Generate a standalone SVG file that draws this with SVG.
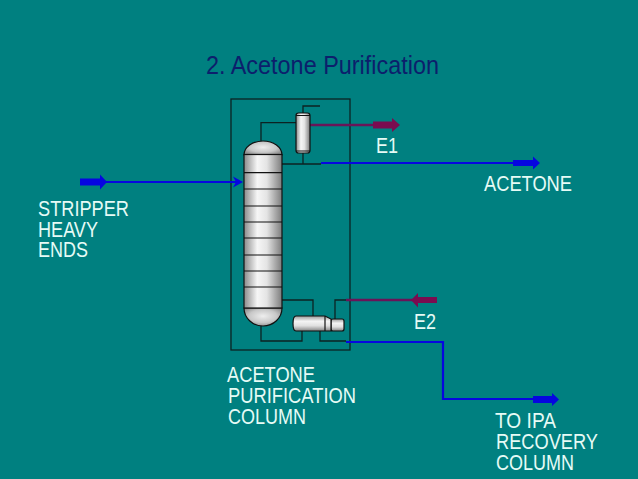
<svg xmlns="http://www.w3.org/2000/svg" width="638" height="479" viewBox="0 0 638 479">
<style>
.lab{font-family:"Liberation Sans",Arial,sans-serif;font-size:22.5px;fill:#e6fbf6}
.blk{fill:none;stroke:#0c2222;stroke-width:1.3}
.tray{stroke:#111;stroke-width:1.2;fill:none}
.blue{fill:none;stroke:#0606e0;stroke-width:2.2}
.pur{fill:none;stroke:#6a1458;stroke-width:2.4}
.outl{stroke:#111;stroke-width:1.2}
</style>
<defs>
<linearGradient id="v" x1="0" x2="1" y1="0" y2="0"><stop offset="0" stop-color="#8a8a8a"/><stop offset=".35" stop-color="#f6f6f6"/><stop offset=".6" stop-color="#e4e4e4"/><stop offset="1" stop-color="#7c7c7c"/></linearGradient>
<linearGradient id="h" x1="0" x2="0" y1="0" y2="1"><stop offset="0" stop-color="#9a9a9a"/><stop offset=".35" stop-color="#f4f4f4"/><stop offset=".65" stop-color="#e0e0e0"/><stop offset="1" stop-color="#858585"/></linearGradient>
<radialGradient id="d" cx=".5" cy=".45" r=".6"><stop offset="0" stop-color="#eee"/><stop offset=".6" stop-color="#c8c8c8"/><stop offset="1" stop-color="#8a8a8a"/></radialGradient>
</defs>
<rect id="background" width="638" height="479" fill="#008080"/>
<g id="title"><text x="206" y="74" font-family="'Liberation Sans',Arial,sans-serif" font-size="26" fill="#0c1f6c" textLength="233" lengthAdjust="spacingAndGlyphs">2. Acetone Purification</text></g>
<g id="connectors">
<rect class="blk" x="231" y="99" width="119" height="251"/>
<path class="blk" d="M261 141V122.700H296M303 113V106H320M303 153V164M282 164H321M282 300H313V316M335 319V300H346M261 326V341H302V331M320 331V341H346"/>
<path class="pur" d="M310 125H376"/>
<path class="pur" d="M346 300H415"/>
<path class="blue" d="M321 163H515"/>
<path class="blue" d="M104 182H238"/>
<path class="blue" d="M346 342H443V399H535"/>
<path d="M233 176.500L243 182L233 187.500L236 182Z" fill="#0606e0"/>
<path d="M80 178.500H100V174.500L107 182L100 189.500V185.500H80Z" fill="#0606e0"/>
<path d="M513 160H533V156.500L540 163L533 169.500V166H513Z" fill="#0606e0"/>
<path d="M533 396H552V393L559 399.500L552 406V403H533Z" fill="#0606e0"/>
<path d="M373 121.500H392V118L400 125L392 132V128.500H373Z" fill="#7a0c50"/>
<path d="M437 297V303H418V307.500L411 300L418 293V297Z" fill="#7a0c50"/>
</g>
<g id="column">
<path d="M244 155A19 14 0 0 1 282 155Z" fill="url(#d)" class="outl"/>
<path d="M244 308A19 18 0 0 0 282 308Z" fill="url(#d)" class="outl"/>
<rect x="244" y="154.500" width="38" height="153.500" fill="url(#v)" class="outl"/>
<path class="tray" d="M244 172.700H282M244 189H282M244 206H282M244 222H282M244 238H282M244 255H282M244 271H282M244 287H282"/>
</g>
<g id="condenser">
<rect x="296" y="113" width="14" height="40" rx="2.500" fill="url(#v)" class="outl"/>
<path class="tray" d="M296 115.500H310M296 151H310"/>
</g>
<g id="reboiler">
<rect x="331" y="319" width="13" height="12" rx="2" fill="url(#h)" class="outl"/>
<path d="M296 316H325L331 319V331H296Q293 331 293 323.500Q293 316 296 316Z" fill="url(#h)" class="outl"/>
<path class="tray" d="M325 316V331"/>
</g>
<g id="labels">
<text class="lab" x="376" y="153" textLength="22" lengthAdjust="spacingAndGlyphs">E1</text>
<text class="lab" x="414" y="329" textLength="22" lengthAdjust="spacingAndGlyphs">E2</text>
<text class="lab" x="484" y="191" textLength="88" lengthAdjust="spacingAndGlyphs">ACETONE</text>
<text class="lab"><tspan x="38" y="215.500" textLength="91" lengthAdjust="spacingAndGlyphs">STRIPPER</tspan><tspan x="38" y="236.500" textLength="60" lengthAdjust="spacingAndGlyphs">HEAVY</tspan><tspan x="38" y="257" textLength="50" lengthAdjust="spacingAndGlyphs">ENDS</tspan></text>
<text class="lab"><tspan x="227" y="382" textLength="88" lengthAdjust="spacingAndGlyphs">ACETONE</tspan><tspan x="228" y="403" textLength="128" lengthAdjust="spacingAndGlyphs">PURIFICATION</tspan><tspan x="228" y="424" textLength="78" lengthAdjust="spacingAndGlyphs">COLUMN</tspan></text>
<text class="lab"><tspan x="495" y="428" textLength="61" lengthAdjust="spacingAndGlyphs">TO IPA</tspan><tspan x="496" y="449" textLength="102" lengthAdjust="spacingAndGlyphs">RECOVERY</tspan><tspan x="496" y="470" textLength="78" lengthAdjust="spacingAndGlyphs">COLUMN</tspan></text>
</g>
</svg>
